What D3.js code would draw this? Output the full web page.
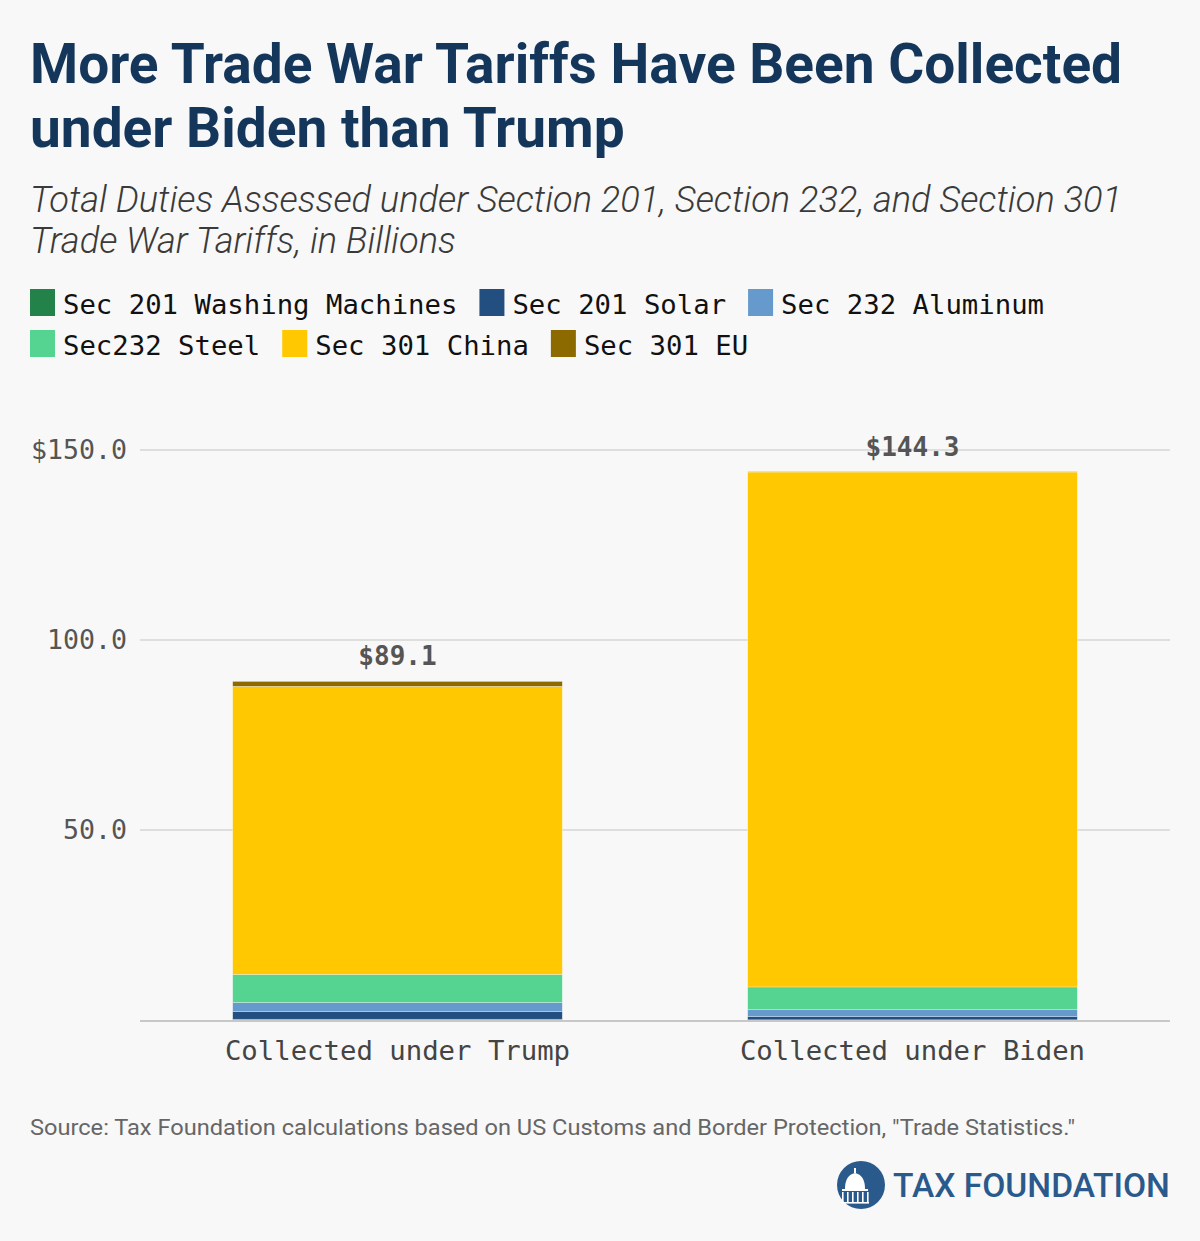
<!DOCTYPE html>
<html>
<head>
<meta charset="utf-8">
<script src="https://cdn.jsdelivr.net/npm/d3@7"></script>
<style>
  html, body { margin: 0; padding: 0; background: #f8f8f8; }
  svg { display: block; }
</style>
</head>
<body>
<svg id="chart" width="1200" height="1241"></svg>
<script>
// ---- Data ----
const categories = ["Collected under Trump", "Collected under Biden"];
const seriesNames = ["Sec 201 Washing Machines", "Sec 201 Solar", "Sec 232 Aluminum", "Sec232 Steel", "Sec 301 China", "Sec 301 EU"];
const seriesColors = ["#23824a", "#224f80", "#6699cc", "#55d391", "#ffc800", "#8c6a00"];
const washingMachines = [0.2, 0.05];
const solar = [2.0, 0.85];
const aluminum = [2.4, 1.8];
const steel = [7.4, 6.0];
const china = [75.8, 135.5];
const eu = [1.3, 0.1];
const totalLabels = ["$89.1", "$144.3"];
const yTicks = [50, 100, 150];
const yTickLabels = ["50.0", "100.0", "$150.0"];

const seriesValues = [washingMachines, solar, aluminum, steel, china, eu];
const rows = categories.map((c, i) => {
  const r = { category: c };
  seriesNames.forEach((s, j) => r[s] = seriesValues[j][i]);
  return r;
});

const svg = d3.select("#chart");
const W = 1200, H = 1241;
svg.append("rect").attr("width", W).attr("height", H).attr("fill", "#f8f8f8");

const mono = "'DejaVu Sans Mono', 'Liberation Mono', monospace";
const sans = "Roboto, 'Noto Sans', sans-serif";

function fitWidth(sel, target) {
  const node = sel.node();
  const fs = parseFloat(sel.attr("font-size"));
  const w = node.getComputedTextLength();
  sel.attr("font-size", (fs * target / w).toFixed(2));
}

// ---- Title ----
const titleLines = ["More Trade War Tariffs Have Been Collected", "under Biden than Trump"];
const t1 = svg.append("text").attr("x", 30).attr("y", 83).attr("font-family", sans)
  .attr("font-weight", 700).attr("font-size", 55).attr("fill", "#14365a").text(titleLines[0]);
fitWidth(t1, 1092);
svg.append("text").attr("x", 30).attr("y", 147).attr("font-family", sans)
  .attr("font-weight", 700).attr("font-size", t1.attr("font-size")).attr("fill", "#14365a").text(titleLines[1]);

// ---- Subtitle ----
const subLines = ["Total Duties Assessed under Section 201, Section 232, and Section 301", "Trade War Tariffs, in Billions"];
const s1 = svg.append("text").attr("x", 30).attr("y", 212).attr("font-family", sans)
  .attr("font-style", "italic").attr("font-weight", 300).attr("font-size", 31).attr("fill", "#3a3a3a").text(subLines[0]);
fitWidth(s1, 1092);
svg.append("text").attr("x", 30).attr("y", 253).attr("font-family", sans)
  .attr("font-style", "italic").attr("font-weight", 300).attr("font-size", s1.attr("font-size")).attr("fill", "#3a3a3a").text(subLines[1]);

// ---- Legend ----
const legendFS = 27.3;
let lx = 30, ly = 289;
const legendG = svg.append("g");
seriesNames.forEach((name, i) => {
  const tmp = legendG.append("text").attr("font-family", mono).attr("font-size", legendFS).text(name);
  const tw = tmp.node().getComputedTextLength();
  if (lx + 33 + tw > 1170) { lx = 30; ly += 41; }
  legendG.append("rect").attr("x", lx).attr("y", ly).attr("width", 25).attr("height", 27)
    .attr("fill", seriesColors[i]);
  tmp.attr("x", lx + 33).attr("y", ly + 25).attr("fill", "#111");
  lx = lx + 33 + tw + 22;
});

// ---- Scales ----
const plotL = 140, plotR = 1170, y0 = 1020, yTop = 450;
const x = d3.scaleBand().domain(categories).range([plotL, plotR]).paddingInner(0.36).paddingOuter(0.18);
const y = d3.scaleLinear().domain([0, 150]).range([y0, yTop]);

// gridlines
const grid = svg.append("g");
grid.selectAll("line").data(yTicks).join("line")
  .attr("x1", plotL).attr("x2", plotR)
  .attr("y1", d => y(d)).attr("y2", d => y(d))
  .attr("stroke", "#d6d6d6").attr("stroke-width", 1.5);

// y tick labels via axis
const yAxis = d3.axisLeft(y).tickValues(yTicks).tickSize(0).tickPadding(0)
  .tickFormat((d, i) => yTickLabels[i]);
const yg = svg.append("g").attr("transform", `translate(127,0)`).call(yAxis);
yg.select(".domain").remove();
yg.selectAll("text").attr("font-family", mono).attr("font-size", 26.6).attr("fill", "#555")
  .attr("dy", "0.32em");

// ---- Stacked bars ----
const stack = d3.stack().keys(seriesNames);
const stacked = stack(rows);
const barsG = svg.append("g");
stacked.forEach((layer, i) => {
  barsG.append("g").attr("fill", seriesColors[i])
    .selectAll("rect").data(layer).join("rect")
    .attr("x", d => x(d.data.category))
    .attr("width", x.bandwidth())
    .attr("y", d => y(d[1]))
    .attr("height", d => Math.max(0, y(d[0]) - y(d[1])))
    .attr("stroke", "rgba(255,255,255,0.5)").attr("stroke-width", 0.6);
});

// baseline
svg.append("line").attr("x1", plotL).attr("x2", plotR).attr("y1", y0 + 1).attr("y2", y0 + 1)
  .attr("stroke", "#c8c8c8").attr("stroke-width", 2);

// total labels
const totals = rows.map(r => d3.sum(seriesNames, s => r[s]));
svg.append("g").selectAll("text").data(categories).join("text")
  .attr("x", d => x(d) + x.bandwidth() / 2)
  .attr("y", (d, i) => y(totals[i]) - 16)
  .attr("text-anchor", "middle").attr("font-family", mono).attr("font-weight", 700)
  .attr("font-size", 26).attr("fill", "#555")
  .text((d, i) => totalLabels[i]);

// x axis labels
const xAxis = d3.axisBottom(x).tickSize(0).tickPadding(0);
const xg = svg.append("g").attr("transform", `translate(0,${y0})`).call(xAxis);
xg.select(".domain").remove();
xg.selectAll("text").attr("font-family", mono).attr("font-size", 27.3).attr("fill", "#444")
  .attr("dy", 0).attr("y", 40);

// ---- Source ----
const src = svg.append("text").attr("x", 30).attr("y", 1135).attr("font-family", sans)
  .attr("font-size", 22).attr("fill", "#666")
  .text('Source: Tax Foundation calculations based on US Customs and Border Protection, "Trade Statistics."');
src.attr("textLength", 1045).attr("lengthAdjust", "spacingAndGlyphs");

// ---- Logo ----
const logo = svg.append("g");
const cx = 861, cy = 1185, r = 24;
logo.append("circle").attr("cx", cx).attr("cy", cy).attr("r", r).attr("fill", "#2a5a8b");
const dome = logo.append("g").attr("fill", "#fff");
dome.append("rect").attr("x", cx - 19).attr("y", cy + 4).attr("width", 26).attr("height", 2);
dome.append("path").attr("d", `M${cx-16},${cy+4} Q${cx-16},${cy-10} ${cx-6},${cy-12} Q${cx+4},${cy-10} ${cx+4},${cy+4} Z`);
dome.append("rect").attr("x", cx - 7).attr("y", cy - 17).attr("width", 2).attr("height", 5);
[0,1,2,3,4,5].forEach(k => {
  dome.append("rect").attr("x", cx - 19 + k * 5).attr("y", cy + 7).attr("width", 1.6).attr("height", 10);
});
dome.append("rect").attr("x", cx - 20).attr("y", cy + 17).attr("width", 28).attr("height", 1.6);
const lt = logo.append("text").attr("x", 893).attr("y", 1197).attr("font-family", sans)
  .attr("font-weight", 500).attr("font-size", 34).attr("fill", "#2a5a8b").text("TAX FOUNDATION");
fitWidth(lt, 277);
</script>
</body>
</html>
